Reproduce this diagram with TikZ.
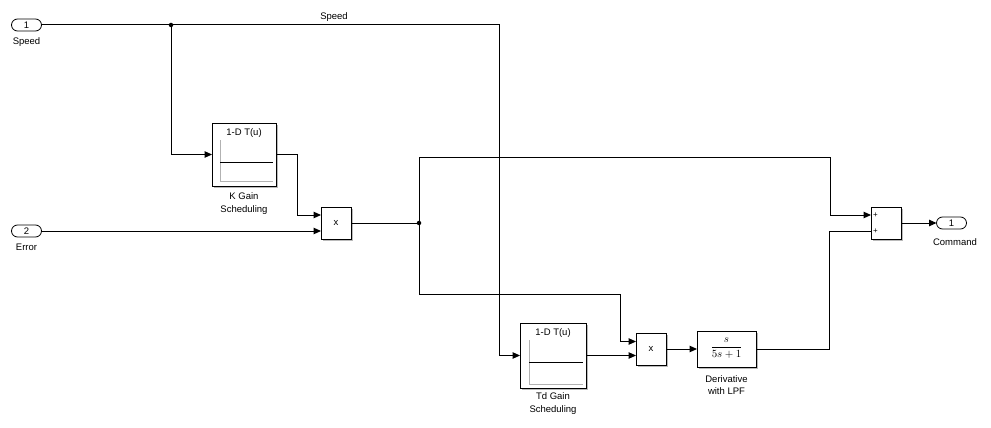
\documentclass[tikz,border=0pt]{standalone}
\usepackage{fontspec}
\setmainfont{Liberation Sans}
\usetikzlibrary{arrows.meta,shadows,calc}
\begin{document}
\begin{tikzpicture}[x=1pt,y=-1pt,
  font=\fontsize{9.5}{10}\selectfont,
  sig/.style={line width=1pt,-{Triangle[length=7.5pt,width=6.5pt]}},
  wire/.style={line width=1pt},
  blk/.style={draw,line width=0.6pt,fill=white,anchor=north west,inner sep=0pt,outer sep=0pt,
     drop shadow={shadow xshift=1.5pt,shadow yshift=-1.5pt,opacity=0.45,fill=black!60}},
  port/.style={draw,line width=0.8pt,fill=white,rounded corners=6pt,minimum width=30pt,minimum height=12pt,inner sep=0pt,outer sep=0pt},
  lbl/.style={align=center,inner sep=0pt,font=\fontsize{9.5}{12.5}\selectfont},
  dot/.style={circle,fill=black,inner sep=0pt,minimum size=4.5pt}
]
\useasboundingbox (0,0) rectangle (991,428);

% ports
\node[port] (in1) at (26.5,25) {1};
\node[port] (in2) at (26.5,231) {2};
\node[port] (out1) at (951.5,223) {1};
\node[lbl] (in1l) at (26.5,42) {Speed};
\node[lbl] (in2l) at (26.5,247) {Error};
\node[lbl] (out1l) at (955,242) {Command};

% blocks
\node[blk,minimum width=64pt,minimum height=63pt] (K) at (212,123) {};
\node[anchor=north,inner sep=0pt] (Kt) at ($(K.north)+(0,5)$) {1-D T(u)};
\draw[black!30,line width=0.6pt] (220,140) coordinate (Ka) -- (220,181) -- (273,181);
\draw[line width=0.8pt] (220,162) -- (273,162);
\node[lbl] (Kl) at (244,203.5) {K Gain\\Scheduling};

\node[blk,minimum width=66pt,minimum height=65pt] (Td) at (520,323) {};
\node[anchor=north,inner sep=0pt] (Tdt) at ($(Td.north)+(0,5)$) {1-D T(u)};
\draw[black!30,line width=0.6pt] (529,340) -- (529,384) -- (583,384);
\draw[line width=0.8pt] (529,362) -- (583,362);
\node[lbl] (Tdl) at (553,403.5) {Td Gain\\Scheduling};

\node[blk,minimum width=30pt,minimum height=32pt] (P1) at (321,207) {};
\node (P1t) at (P1.center) {x};
\node[blk,minimum width=30pt,minimum height=32pt] (P2) at (636,333) {};
\node (P2t) at (P2.center) {x};

\node[blk,minimum width=59pt,minimum height=36pt] (D) at (697,331) {};
\node[font=\fontsize{10.5}{10.5}\selectfont,inner sep=0pt] (Dt) at ($(D.center)+(0,-0.5)$) {$\displaystyle\frac{s}{5s+1}$};
\node[lbl] (Dl) at (726.5,385) {Derivative\\with LPF};

\node[blk,minimum width=30pt,minimum height=32pt] (S) at (871,207) {};
\node[anchor=west,inner sep=0pt,font=\fontsize{8}{8}\selectfont] (Sp1) at (873,215) {+};
\node[anchor=west,inner sep=0pt,font=\fontsize{8}{8}\selectfont] (Sp2) at (873,231) {+};

% junctions and corner points
\coordinate (j1) at (171,25);
\coordinate (j2) at (419,223);
\coordinate (c1) at (499,25);
\coordinate (k1) at (297,154.5);
\coordinate (u1) at (830,157);
\coordinate (l1) at (620,294);
\coordinate (d1) at (829,349);

% connectors
\draw[sig] (in1.east) -- (c1) |- (Td.west);
\draw[sig] (j1) |- (K.west);
\draw[sig] (K.east) -- (k1) |- ($(P1.west)+(0,-8)$);
\draw[sig] (in2.east) -- ($(P1.west)+(0,8)$);
\draw[wire] (P1.east) -- (j2);
\draw[sig] (j2) |- (u1) |- ($(S.west)+(0,-8)$);
\draw[sig] (j2) |- (l1) |- ($(P2.west)+(0,-7.5)$);
\draw[sig] (Td.east) -- (Td.east -| P2.west);
\draw[sig] (P2.east) -- (P2.east -| D.west);
\draw[wire] (D.east) -- (d1) |- ($(S.west)+(0,8)$);
\draw[sig] (S.east) -- (out1.west);

\node[dot] (j1d) at (j1) {};
\node[dot] (j2d) at (j2) {};
\node[lbl] (spl) at (334,17) {Speed};
\end{tikzpicture}
\end{document}
